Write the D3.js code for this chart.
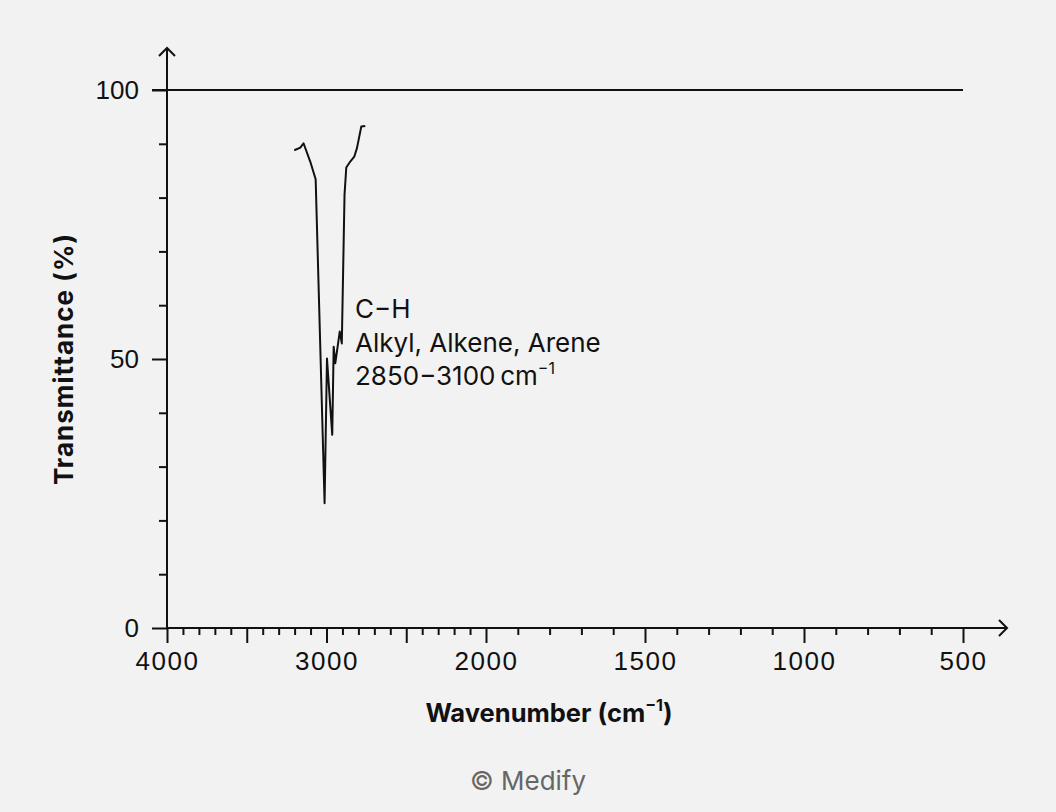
<!DOCTYPE html>
<html>
<head>
<meta charset="utf-8">
<script src="https://cdn.jsdelivr.net/npm/d3@7"></script>
<style>
  body { margin: 0; background: #f2f2f2; }
  svg { display: block; font-family: Inter, "Liberation Sans", sans-serif; }
  .axis text { font-size: 26px; fill: #111; }
  .x-axis text { letter-spacing: 1.5px; }
  .axis path, .axis line { stroke: #111; stroke-width: 2; }
</style>
</head>
<body>
<svg id="chart"></svg>
<script>
// IR spectrum trace
const wavenumbers = [3202, 3164, 3144, 3102, 3068, 3012, 2997, 2964, 2955, 2945, 2917, 2904, 2887, 2876, 2851, 2826, 2809, 2782, 2757];
const transmittance = [88.8, 89.3, 90.1, 86.7, 83.4, 23.2, 50.1, 35.9, 52.3, 49.2, 55.1, 52.9, 80.5, 85.6, 86.7, 87.6, 89.2, 93.2, 93.3];

const xTickLabels = [4000, 3000, 2000, 1500, 1000, 500];
const xMajorTicks = [4000, 3500, 3000, 2500, 2000, 1500, 1000, 500];
const yTickLabels = [0, 50, 100];

const annotationLines = ['C\u2212H', 'Alkyl, Alkene, Arene'];

const width = 1056, height = 812;

const svg = d3.select('#chart')
    .attr('width', width)
    .attr('height', height);

// Wavenumber axis is compressed above 2000 (1000 per major division) like most IR plots
const xScale = d3.scaleLinear()
    .domain([4000, 2000, 500])
    .range([167, 486, 963]);

const yScale = d3.scaleLinear()
    .domain([0, 100])
    .range([628, 90]);

// 100% reference line
svg.append('line')
    .attr('x1', xScale(4000) - 15).attr('x2', xScale(500))
    .attr('y1', yScale(100)).attr('y2', yScale(100))
    .attr('stroke', '#111').attr('stroke-width', 2);

// x axis: tick every 100, longer ones every 500
const xAxis = d3.axisBottom(xScale)
    .tickValues(d3.range(500, 4001, 100))
    .tickSize(7)
    .tickSizeOuter(0)
    .tickPadding(10)
    .tickFormat(d => xTickLabels.includes(d) ? d : '');

const xAxisG = svg.append('g')
    .attr('class', 'axis x-axis')
    .attr('transform', `translate(0,${yScale(0)})`)
    .call(xAxis)
    .call(g => g.select('.domain').remove());

xAxisG.selectAll('.tick')
    .filter(d => xMajorTicks.includes(d))
    .select('line').attr('y2', 15);
xAxisG.selectAll('.tick text').attr('y', 24);

// y axis: tick every 10, longer at 0 / 50 / 100
const yAxis = d3.axisLeft(yScale)
    .tickValues(d3.range(0, 101, 10))
    .tickSize(8)
    .tickSizeOuter(0)
    .tickPadding(20)
    .tickFormat(d => yTickLabels.includes(d) ? d : '');

const yAxisG = svg.append('g')
    .attr('class', 'axis y-axis')
    .attr('transform', `translate(${xScale(4000)},0)`)
    .call(yAxis)
    .call(g => g.select('.domain').remove());

yAxisG.selectAll('.tick')
    .filter(d => yTickLabels.includes(d))
    .select('line').attr('x2', -15);

// axis lines with open arrow heads
const x0 = xScale(4000), y0 = yScale(0);
const xEnd = xScale(500) + 44, yEnd = yScale(100) - 42;
svg.append('path')
    .attr('d', `M${x0},${y0}H${xEnd}M${xEnd - 8},${y0 - 8}L${xEnd},${y0}L${xEnd - 8},${y0 + 8}`)
    .attr('fill', 'none').attr('stroke', '#111').attr('stroke-width', 2);
svg.append('path')
    .attr('d', `M${x0},${y0 + 1}V${yEnd}M${x0 - 8},${yEnd + 8}L${x0},${yEnd}L${x0 + 8},${yEnd + 8}`)
    .attr('fill', 'none').attr('stroke', '#111').attr('stroke-width', 2);

// spectrum
const spectrum = wavenumbers.map((w, i) => ({ w, t: transmittance[i] }));
svg.append('path')
    .datum(spectrum)
    .attr('fill', 'none')
    .attr('stroke', '#111')
    .attr('stroke-width', 2)
    .attr('stroke-linejoin', 'round')
    .attr('d', d3.line().x(d => xScale(d.w)).y(d => yScale(d.t)));

// annotation
const note = svg.append('text')
    .attr('x', 355)
    .attr('y', 318)
    .attr('font-size', 26)
    .attr('fill', '#111');
annotationLines.forEach((l, i) => {
  note.append('tspan').attr('x', 355).attr('dy', i === 0 ? 0 : 34).text(l);
});
const range = note.append('tspan').attr('x', 355).attr('dy', 33);
range.text('2850\u22123100\u2009cm');
range.append('tspan').attr('font-size', 16).attr('dy', -11).text('\u22121');

// axis titles
const xTitle = svg.append('text')
    .attr('x', 549)
    .attr('y', 722)
    .attr('text-anchor', 'middle')
    .attr('font-size', 25.5)
    .attr('font-weight', 'bold')
    .attr('fill', '#111')
    .text('Wavenumber (cm');
xTitle.append('tspan').attr('font-size', 16).attr('dy', -11).text('\u22121');
xTitle.append('tspan').attr('dy', 11).text(')');

svg.append('text')
    .attr('transform', `translate(73,${yScale(50)}) rotate(-90)`)
    .attr('text-anchor', 'middle')
    .attr('font-size', 26)
    .attr('letter-spacing', 1)
    .attr('font-weight', 'bold')
    .attr('fill', '#111')
    .text('Transmittance (%)');

svg.append('text')
    .attr('x', 528)
    .attr('y', 790)
    .attr('text-anchor', 'middle')
    .attr('font-size', 26)
    .attr('fill', '#666')
    .text('\u00a9 Medify');
</script>
</body>
</html>
